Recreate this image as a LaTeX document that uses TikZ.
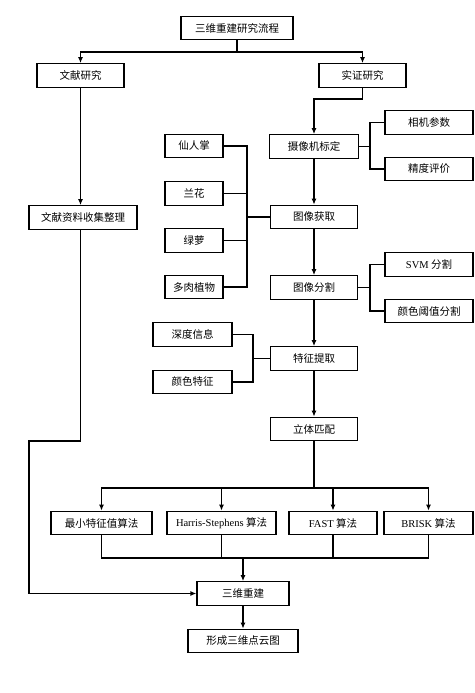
\documentclass[tikz,border=0pt]{standalone}
\usepackage{fontspec}
\newfontfamily\cjkfont{Noto Sans CJK SC}
\newfontfamily\latfont{Liberation Serif}
\usetikzlibrary{arrows.meta}
\begin{document}
\begin{tikzpicture}[x=1pt,y=-1pt,
  bx/.style={draw, line width=1.2pt, minimum width=#1pt, minimum height=23.5pt, inner sep=0pt,
    font=\cjkfont\fontsize{10.5}{12}\selectfont},
  ln/.style={line width=1.2pt},
  arr/.style={line width=1.2pt, -{Latex[length=6pt,width=5pt]}}]
\useasboundingbox (0,0) rectangle (474,693);
% nodes
\node[bx=112] (title) at (237,28) {三维重建研究流程};
\node[bx=87] (wx) at (80.5,75.5) {文献研究};
\node[bx=87] (sz) at (362.5,75.5) {实证研究};
\node[bx=108] (wxzl) at (83,217.5) {文献资料收集整理};
\node[bx=89] (sxj) at (314,146.5) {摄像机标定};
\node[bx=88] (xjcs) at (429,122.5) {相机参数};
\node[bx=88] (jdpj) at (429,169) {精度评价};
\node[bx=58] (xrz) at (194,146) {仙人掌};
\node[bx=58] (lh) at (194,193.5) {兰花};
\node[bx=58] (ll) at (194,240.5) {绿萝};
\node[bx=58] (drzw) at (194,287) {多肉植物};
\node[bx=87] (txhq) at (314,217) {图像获取};
\node[bx=87] (txfg) at (314,287.5) {图像分割};
\node[bx=88] (svm) at (429,264.5) {{\latfont SVM} 分割};
\node[bx=88] (ysyz) at (429,311) {颜色阈值分割};
\node[bx=79] (sdxx) at (192.5,334.5) {深度信息};
\node[bx=79] (ystz) at (192.5,382) {颜色特征};
\node[bx=87] (tztq) at (314,358.5) {特征提取};
\node[bx=87] (ltpp) at (314,429) {立体匹配};
\node[bx=101] (a1) at (101.5,523) {最小特征值算法};
\node[bx=109] (a2) at (221.5,523) {{\latfont Harris-Stephens} 算法};
\node[bx=88] (a3) at (333,523) {{\latfont FAST} 算法};
\node[bx=89] (a4) at (428.5,523) {{\latfont BRISK} 算法};
\node[bx=92] (swcj) at (243,593.5) {三维重建};
\node[bx=110] (xc) at (243,641) {形成三维点云图};
% helper coordinates
\coordinate (t1) at (237,52);
\coordinate (s1) at (362.5,99);
\coordinate (b1) at (370,146.5);
\coordinate (b2) at (247,217);
\coordinate (b3) at (370,287.5);
\coordinate (b4) at (253,358.5);
\coordinate (m1) at (314,488);
\coordinate (m2) at (243,558);
\coordinate (l1) at (80.5,441);
\coordinate (l2) at (29,441);
% top
\draw[arr] (title.south) -- (t1) -| (wx.north);
\draw[arr] (title.south) -- (t1) -| (sz.north);
\draw[arr] (sz.south) -- (s1) -| (sxj.north);
% camera calibration bracket
\draw[ln] (sxj.east) -- (b1);
\draw[ln] (xjcs.west) -| (b1) |- (jdpj.west);
% plants bracket
\draw[ln] (xrz.east) -| (b2) |- (drzw.east);
\draw[ln] (lh.east) -- (lh.east -| b2);
\draw[ln] (ll.east) -- (ll.east -| b2);
\draw[ln] (b2) -- (txhq.west);
% main column
\draw[arr] (sxj.south) -- (txhq.north);
\draw[arr] (txhq.south) -- (txfg.north);
\draw[arr] (txfg.south) -- (tztq.north);
\draw[arr] (tztq.south) -- (ltpp.north);
% segmentation bracket
\draw[ln] (txfg.east) -- (b3);
\draw[ln] (svm.west) -| (b3) |- (ysyz.west);
% feature bracket
\draw[ln] (sdxx.east) -| (b4) |- (ystz.east);
\draw[ln] (b4) -- (tztq.west);
% algorithms
\draw[ln] (ltpp.south) -- (m1);
\draw[arr] (m1) -| (a1.north);
\draw[arr] (m1) -| (a4.north);
\draw[arr] (m1 -| a2.north) -- (a2.north);
\draw[arr] (m1 -| a3.north) -- (a3.north);
\draw[ln] (a1.south) |- (m2);
\draw[ln] (a4.south) |- (m2);
\draw[ln] (a2.south) -- (a2.south |- m2);
\draw[ln] (a3.south) -- (a3.south |- m2);
\draw[arr] (m2) -- (swcj.north);
\draw[arr] (swcj.south) -- (xc.north);
% literature branch
\draw[arr] (wx.south) -- (wx.south |- wxzl.north);
\draw[arr] (wxzl.south -| wx.south) -- (l1) -- (l2) |- (swcj.west);
\end{tikzpicture}
\end{document}
